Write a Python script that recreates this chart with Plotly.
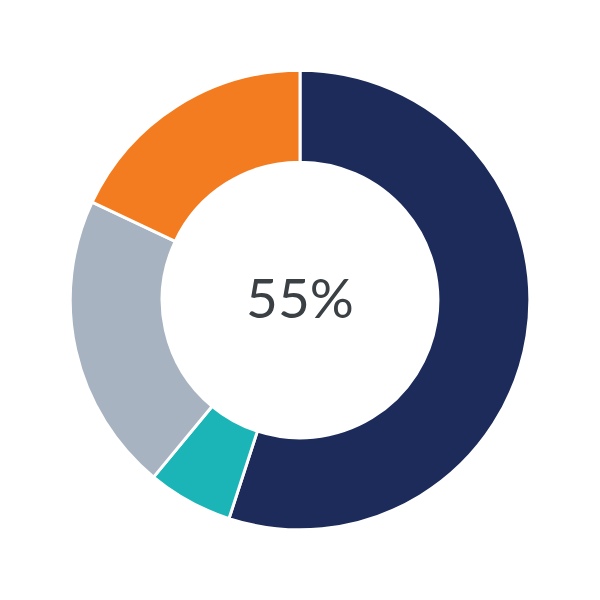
import plotly.graph_objects as go

labels = ["A", "B", "C", "D"]
values = [55, 6, 21, 18]
colors = ["#1c2b5a", "#1bb5b8", "#a8b3c1", "#f47c20"]
center_text = "55%"

fig = go.Figure(go.Pie(
    labels=labels,
    values=values,
    hole=0.6,
    sort=False,
    direction="clockwise",
    rotation=0,
    marker=dict(colors=colors, line=dict(color="white", width=3)),
    textinfo="none",
    hoverinfo="label+percent",
    domain=dict(x=[0.1037, 0.8697], y=[0.1303, 0.8963]),
))
fig.add_annotation(text=center_text, x=0.4867, y=0.518, xref="paper", yref="paper",
                   showarrow=False, font=dict(family="Lato", size=55, color="#3b4045"))
fig.update_layout(width=600, height=600, margin=dict(l=0, r=0, t=0, b=0),
                  showlegend=False, paper_bgcolor="white", plot_bgcolor="white")
fig.write_html("out.html")
